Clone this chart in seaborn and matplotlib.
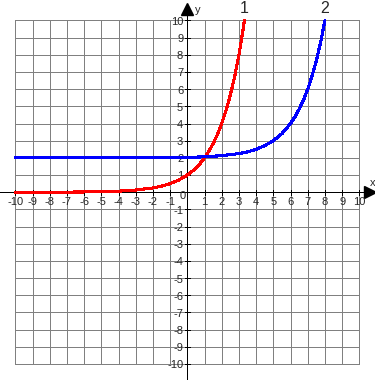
import matplotlib
matplotlib.use("Agg")
import matplotlib.pyplot as plt
import seaborn as sns

# ---- data ----
tick_values = list(range(-10, 11))
x_tick_labels = [str(v) for v in tick_values if v != 0]
y_tick_labels = [str(v) for v in tick_values if v != 0]

curve1_x = [-10, -9, -8, -7, -6, -5, -4, -3, -2, -1.5, -1, -0.5, 0, 0.25, 0.5, 0.75, 1,
            1.25, 1.5, 1.75, 2, 2.25, 2.5, 2.75, 3, 3.15, 3.32]
curve1_y = [0.001, 0.002, 0.004, 0.008, 0.016, 0.03, 0.06, 0.13, 0.25, 0.35, 0.5, 0.71, 1.0,
            1.19, 1.41, 1.68, 2.0, 2.38, 2.83, 3.36, 4.0, 4.76, 5.66, 6.73, 8.0, 8.9, 10.0]

curve2_x = [-10, -8, -6, -4, -2, -1, 0, 1, 2, 3, 3.5, 4, 4.5, 5, 5.5, 6, 6.25, 6.5, 6.75,
            7, 7.25, 7.5, 7.75, 8]
curve2_y = [2.0, 2.0, 2.0, 2.0, 2.01, 2.02, 2.03, 2.06, 2.13, 2.25, 2.35, 2.5, 2.71, 3.0,
            3.41, 4.0, 4.38, 4.83, 5.36, 6.0, 6.76, 7.66, 8.73, 10.0]

curve_names = ["1", "2"]
curve_colors = ["#ff0000", "#0000ff"]

sns.set_style("white")
plt.rcParams['font.family'] = ['Liberation Sans', 'DejaVu Sans']

fig = plt.figure(figsize=(3.75, 3.80), dpi=100)
ax = fig.add_axes([0, 0, 1, 1])
ax.set_xlim(-10.89, 10.91)
ax.set_ylim(-10.93, 11.19)
ax.axis('off')

px = 0.72  # one pixel in points at 100 dpi
grid_col = "#808080"
lo, hi = tick_values[0], tick_values[-1]
ax.vlines(tick_values, lo, hi, colors=grid_col, linewidth=px, zorder=1, antialiased=False)
ax.hlines(tick_values, lo, hi, colors=grid_col, linewidth=px, zorder=1, antialiased=False)

# axes with arrows
ax.plot([-10.89, 10.4], [0, 0], color='black', linewidth=px, zorder=3, antialiased=False)
ax.plot([0, 0], [-10.93, 10.6], color='black', linewidth=px, zorder=3, antialiased=False)
ax.plot([10.62], [0], marker='>', color='black', markersize=8, zorder=4, clip_on=False)
ax.plot([0], [10.68], marker='^', color='black', markersize=8, zorder=4, clip_on=False)

# small tick marks
nz = [v for v in tick_values if v != 0]
ax.vlines(nz, -0.15, 0.15, colors='black', linewidth=px, zorder=3, antialiased=False)
ax.hlines(nz, -0.15, 0.15, colors='black', linewidth=px, zorder=3, antialiased=False)

# tick labels
fs = 8
for v, lab in zip(nz, x_tick_labels):
    ax.text(v, -0.3, lab, ha='center', va='top', fontsize=fs, zorder=5)
for v, lab in zip(nz, y_tick_labels):
    ax.text(-0.24, v - 0.08, lab, ha='right', va='center', fontsize=fs, zorder=5)
ax.text(-0.1, 0.05, "0", ha='right', va='top', fontsize=fs, zorder=5)
ax.text(0.45, 10.6, "y", ha='left', va='center', fontsize=fs, zorder=5)
ax.text(10.75, 0.55, "x", ha='center', va='center', fontsize=fs, zorder=5)

# curves
sns.lineplot(x=curve1_x, y=curve1_y, color=curve_colors[0], linewidth=1.5, ax=ax, zorder=6,
             antialiased=False)
sns.lineplot(x=curve2_x, y=curve2_y, color=curve_colors[1], linewidth=1.5, ax=ax, zorder=6,
             antialiased=False)

ax.text(curve1_x[-1], 10.68, curve_names[0], ha='center', va='center', fontsize=11.5, zorder=7)
ax.text(curve2_x[-1], 10.68, curve_names[1], ha='center', va='center', fontsize=11.5, zorder=7)

ax.set_xlim(-10.89, 10.91)
ax.set_ylim(-10.93, 11.19)
fig.savefig("out.png", dpi=100)
